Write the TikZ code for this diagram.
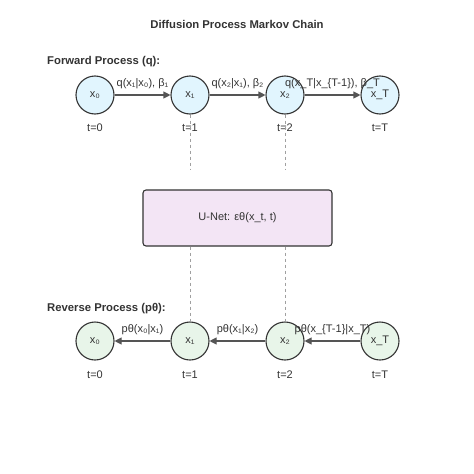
\documentclass[tikz,border=0pt]{standalone}
\usepackage{fontspec}
\setmainfont{Liberation Sans}
\usetikzlibrary{arrows.meta}
\definecolor{ink}{HTML}{333333}
\definecolor{wire}{HTML}{555555}
\definecolor{fwdfill}{HTML}{E1F5FE}
\definecolor{revfill}{HTML}{E8F5E9}
\definecolor{netfill}{HTML}{F3E5F5}
\definecolor{guide}{HTML}{A0A0A0}
\tikzset{
  state/.style={circle, draw=ink, line width=1.1pt, minimum size=38pt, inner sep=0pt, text=ink, font=\fontsize{11}{13}\selectfont},
  fwd/.style={state, fill=fwdfill},
  rev/.style={state, fill=revfill},
  flow/.style={draw=wire, line width=1.1pt, -{Triangle[length=7pt,width=7pt]}},
  link/.style={draw=guide, dashed, line width=1pt},
  netbox/.style={draw=ink, fill=netfill, line width=1.1pt, rounded corners=3pt, minimum width=189pt, minimum height=56pt, text=ink, font=\fontsize{11}{13}\selectfont},
  elab/.style={text=ink, font=\fontsize{11}{13}\selectfont, inner sep=1pt},
  tlab/.style={text=ink, font=\fontsize{11}{13}\selectfont},
  head/.style={text=ink, font=\bfseries\fontsize{11.3}{13}\selectfont, anchor=west, inner sep=0pt},
}
\begin{document}
\begin{tikzpicture}[x=1pt,y=-1pt]
  \useasboundingbox (0,0) rectangle (474,474);

  \node[text=ink, font=\bfseries\fontsize{11.3}{13}\selectfont] (title) at (237,24) {Diffusion Process Markov Chain};

  % forward chain
  \node[head] (fwdhead) at (47,62) {Forward Process (q):};
  \foreach \i/\xx/\nm/\tt in {0/95/x₀/0, 1/190/x₁/1, 2/285/x₂/2, 3/380/x\_T/T} {
    \node[fwd] (f\i) at (\xx,95) {\nm};
    \node[tlab] (ft\i) at (\xx,128) {t=\tt};
  }
  \draw[flow] (f0) -- node[elab, above=4.5pt] {q(x₁|x₀), β₁} (f1);
  \draw[flow] (f1) -- node[elab, above=4.5pt] {q(x₂|x₁), β₂} (f2);
  \draw[flow] (f2) -- node[elab, above=4.5pt] {q(x\_T|x\_\{T-1\}), β\_T} (f3);

  % denoiser
  \node[netbox] (unet) at (237.5,218) {U-Net: εθ(x\_t, t)};
  \coordinate (u1) at (190,170);
  \coordinate (u2) at (285,170);
  \draw[link] (f1.south) -- (u1);
  \draw[link] (f2.south) -- (u2);

  % reverse chain
  \node[head] (revhead) at (47,309) {Reverse Process (pθ):};
  \foreach \i/\xx/\nm/\tt in {0/95/x₀/0, 1/190/x₁/1, 2/285/x₂/2, 3/380/x\_T/T} {
    \node[rev] (r\i) at (\xx,341) {\nm};
    \node[tlab] (rt\i) at (\xx,375) {t=\tt};
  }
  \draw[flow] (r1) -- node[elab, above=4.5pt] {pθ(x₀|x₁)} (r0);
  \draw[flow] (r2) -- node[elab, above=4.5pt] {pθ(x₁|x₂)} (r1);
  \draw[flow] (r3) -- node[elab, above=4.5pt] {pθ(x\_\{T-1\}|x\_T)} (r2);
  \draw[link] (unet.south -| r1) -- (r1.north);
  \draw[link] (unet.south -| r2) -- (r2.north);
\end{tikzpicture}
\end{document}
